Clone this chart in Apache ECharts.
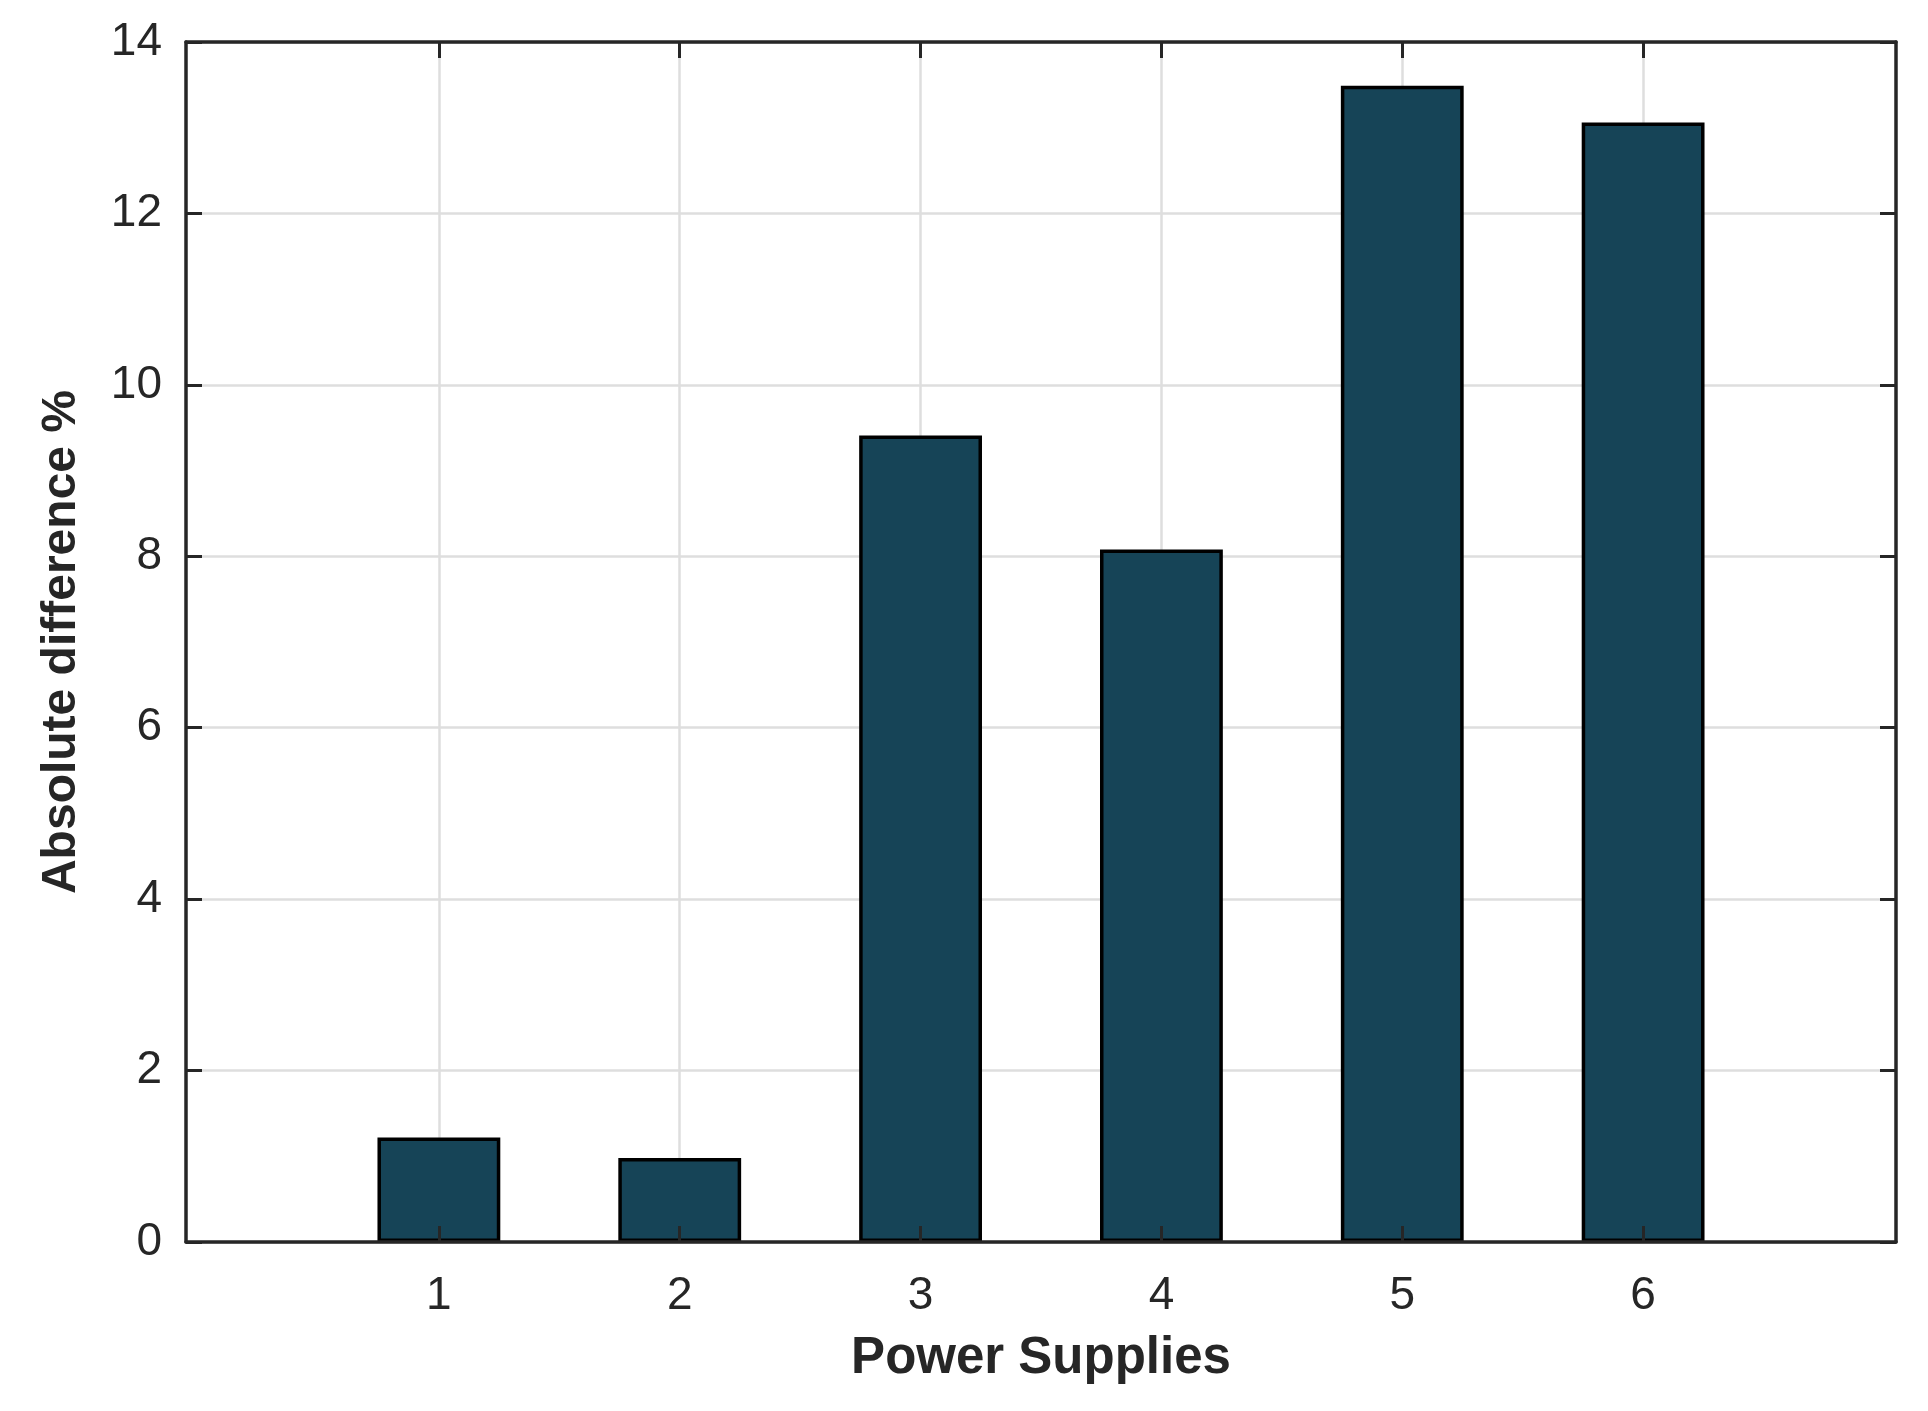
<!DOCTYPE html>
<html>
<head>
<meta charset="utf-8">
<script src="https://cdn.jsdelivr.net/npm/echarts@6/dist/echarts.min.js"></script>
<style>
html,body{margin:0;padding:0;background:#fff;}
#chart{width:1928px;height:1411px;}
</style>
</head>
<body>
<div id="chart"></div>
<script>
// ---- data ----
const xPositions = [1, 2, 3, 4, 5, 6];
const xTickLabels = ['1', '2', '3', '4', '5', '6'];
const values = [1.22, 0.98, 9.41, 8.08, 13.49, 13.06];
const yTicks = [0, 2, 4, 6, 8, 10, 12, 14];
const xLabel = 'Power Supplies';
const yLabel = 'Absolute difference %';

const FONT = '"Liberation Sans", Arial, Helvetica, sans-serif';
const INK = '#262626';
const gridRect = { left: 186, right: 32, top: 42, bottom: 169 };

const xMin = -0.05, xMax = 7.05;
const yMin = yTicks[0], yMax = yTicks[yTicks.length - 1], yStep = yTicks[1] - yTicks[0];

const labelFor = v => {
  const i = xPositions.indexOf(Math.round(v * 1000) / 1000);
  return i >= 0 ? xTickLabels[i] : '';
};

const chart = echarts.init(document.getElementById('chart'), null, { renderer: 'canvas' });

const option = {
  backgroundColor: '#ffffff',
  animation: false,
  grid: [
    Object.assign({ show: false }, gridRect),
    Object.assign({ show: false }, gridRect)
  ],
  xAxis: [
    { // grid lines (behind bars)
      type: 'value', gridIndex: 0, min: xMin, max: xMax, position: 'bottom',
      axisLine: { show: false },
      axisTick: { show: false, customValues: xPositions },
      axisLabel: { show: false, customValues: xPositions },
      splitLine: { show: true, lineStyle: { color: '#dedede', width: 2.5 } },
      z: 0
    },
    { // bottom axis on top of bars
      type: 'value', gridIndex: 1, min: xMin, max: xMax, position: 'bottom',
      axisLine: { show: true, onZero: false, lineStyle: { color: INK, width: 3.5 } },
      axisTick: { show: true, inside: true, length: 16, customValues: xPositions, lineStyle: { color: INK, width: 3 } },
      axisLabel: { show: true, customValues: xPositions, formatter: labelFor, color: INK, fontFamily: FONT, fontSize: 46, margin: 31 },
      splitLine: { show: false },
      name: xLabel, nameLocation: 'middle', nameGap: 91,
      nameTextStyle: { color: INK, fontFamily: FONT, fontSize: 51, fontWeight: 'bold' },
      z: 10
    },
    { // top axis
      type: 'value', gridIndex: 1, min: xMin, max: xMax, position: 'top',
      axisLine: { show: true, onZero: false, lineStyle: { color: INK, width: 3.5 } },
      axisTick: { show: true, inside: true, length: 16, customValues: xPositions, lineStyle: { color: INK, width: 3 } },
      axisLabel: { show: false, customValues: xPositions },
      splitLine: { show: false },
      z: 10
    }
  ],
  yAxis: [
    {
      type: 'value', gridIndex: 0, min: yMin, max: yMax, interval: yStep, position: 'left',
      axisLine: { show: false }, axisTick: { show: false }, axisLabel: { show: false },
      splitLine: { show: true, lineStyle: { color: '#dedede', width: 2.5 } },
      z: 0
    },
    {
      type: 'value', gridIndex: 1, min: yMin, max: yMax, interval: yStep, position: 'left',
      axisLine: { show: true, onZero: false, lineStyle: { color: INK, width: 3.5 } },
      axisTick: { show: true, inside: true, length: 16, lineStyle: { color: INK, width: 3 } },
      axisLabel: { show: true, color: INK, fontFamily: FONT, fontSize: 46, margin: 24 },
      splitLine: { show: false },
      name: yLabel, nameLocation: 'middle', nameGap: 100, nameRotate: 90,
      nameTextStyle: { color: INK, fontFamily: FONT, fontSize: 48, fontWeight: 'bold' },
      z: 10
    },
    {
      type: 'value', gridIndex: 1, min: yMin, max: yMax, interval: yStep, position: 'right',
      axisLine: { show: true, onZero: false, lineStyle: { color: INK, width: 3.5 } },
      axisTick: { show: true, inside: true, length: 16, lineStyle: { color: INK, width: 3 } },
      axisLabel: { show: false },
      splitLine: { show: false },
      z: 10
    }
  ],
  series: [
    {
      type: 'bar',
      xAxisIndex: 0, yAxisIndex: 0,
      barWidth: '51%',
      data: xPositions.map((x, i) => [x, values[i]]),
      itemStyle: { color: '#164457', borderColor: '#000000', borderWidth: 3.5 },
      z: 2
    }
  ]
};
chart.setOption(option);
</script>
</body>
</html>
